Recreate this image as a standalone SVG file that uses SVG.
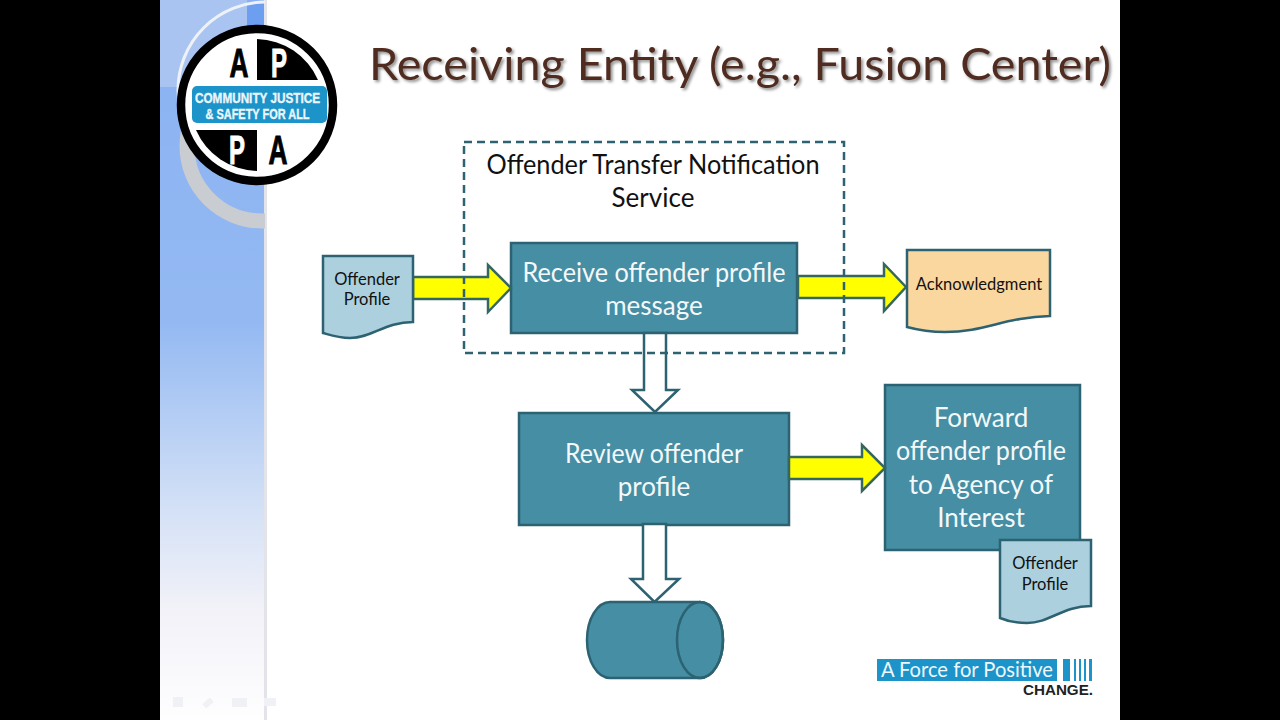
<svg xmlns="http://www.w3.org/2000/svg" width="1280" height="720" viewBox="0 0 1280 720">
<style>
text{font-family:"Lato","Open Sans","Liberation Sans",sans-serif;text-anchor:middle}
.box{fill:#458ea3;stroke:#2c6272;stroke-width:2.5}
.w{fill:#f4f8fa;font-size:26px}
.k{fill:#111;font-size:16.5px}
.doc{stroke:#2c6272;stroke-width:2.5}
.ya{fill:#ffff00;stroke:#36675f;stroke-width:2.5;stroke-linejoin:miter}
.wa{fill:#fff;stroke:#2c6272;stroke-width:2.5;stroke-linejoin:miter}
.lg{font-family:"Liberation Sans",sans-serif;font-weight:700;fill:#fff}
</style>
<defs>
<linearGradient id="side" x1="0" y1="0" x2="0" y2="1"><stop offset="0" stop-color="#8ab2f2"/><stop offset="0.45" stop-color="#94b9f2"/><stop offset="0.7" stop-color="#d2e0f6"/><stop offset="0.85" stop-color="#f3f2f8"/><stop offset="1" stop-color="#fefeff"/></linearGradient>
<clipPath id="sc"><rect x="160" y="0" width="105" height="720"/></clipPath>
</defs>
<rect width="1280" height="720" fill="#000"/>
<rect x="160" width="960" height="720" fill="#fff"/>
<g id="sidebar">
<rect x="160" y="0" width="105" height="720" fill="url(#side)"/>
<rect x="160" y="0" width="87" height="87" fill="#a9c4f1"/>
<rect x="247" y="3" width="18" height="84" fill="#6d9ff0"/>
<rect x="264" y="0" width="3" height="720" fill="#e2e4ea"/>
<g clip-path="url(#sc)" fill="none">
<circle cx="262" cy="146" r="75" stroke="#c9ccd0" stroke-width="15"/>
<circle cx="266" cy="90" r="88" stroke="#eef2f8" stroke-width="3"/>
</g>
<g fill="#f0f1f5"><rect x="173" y="697" width="10" height="10"/><rect x="203" y="700" width="10" height="6" transform="rotate(-40 208 703)"/><rect x="232" y="698" width="15" height="9"/><rect x="264" y="698" width="12" height="8"/></g>
</g>
<text x="740" y="80" style="font-size:45px;fill:#4f2b20;filter:drop-shadow(2px 2px 1.5px rgba(0,0,0,.45))" textLength="742" lengthAdjust="spacingAndGlyphs">Receiving Entity (e.g., Fusion Center)</text>
<g id="logo">
<circle cx="257" cy="105" r="76" fill="#fff" stroke="#000" stroke-width="8.5"/>
<path d="M257 39A68 68 0 0 1 318 80H257Z" fill="#000"/>
<path d="M257 171A68 68 0 0 1 196 130H257Z" fill="#000"/>
<rect x="192" y="86" width="135" height="37" rx="5" fill="#1c93c9"/>
<text class="lg" x="239" y="77" style="font-size:41px;fill:#000;stroke:#000;stroke-width:1" textLength="19" lengthAdjust="spacingAndGlyphs">A</text>
<text class="lg" x="279" y="77" style="font-size:41px;stroke:#fff;stroke-width:1" textLength="16" lengthAdjust="spacingAndGlyphs">P</text>
<text class="lg" x="237" y="164" style="font-size:41px;stroke:#fff;stroke-width:1" textLength="16" lengthAdjust="spacingAndGlyphs">P</text>
<text class="lg" x="278" y="164" style="font-size:41px;fill:#000;stroke:#000;stroke-width:1" textLength="19" lengthAdjust="spacingAndGlyphs">A</text>
<text class="lg" x="257.500" y="103" style="font-size:15px;fill:#eaf6fb;stroke:#eaf6fb;stroke-width:.4" textLength="125" lengthAdjust="spacingAndGlyphs">COMMUNITY JUSTICE</text>
<text class="lg" x="257.500" y="119" style="font-size:15px;fill:#eaf6fb;stroke:#eaf6fb;stroke-width:.4" textLength="104" lengthAdjust="spacingAndGlyphs">&amp; SAFETY FOR ALL</text>
</g>
<g id="review"><rect class="box" x="519" y="413" width="270" height="112"/>
<text class="w" x="654" y="463" textLength="178" lengthAdjust="spacingAndGlyphs">Review offender</text><text class="w" x="654" y="496">profile</text></g>
<g id="forward"><rect class="box" x="885" y="385" width="195" height="165"/>
<text class="w" x="981" y="427">Forward</text><text class="w" x="981" y="460" textLength="170" lengthAdjust="spacingAndGlyphs">offender profile</text><text class="w" x="981" y="494">to Agency of</text><text class="w" x="981" y="527">Interest</text></g>
<g id="receive"><rect class="box" x="511" y="243" width="286" height="90"/>
<text class="w" x="654" y="282" textLength="263" lengthAdjust="spacingAndGlyphs">Receive offender profile</text><text class="w" x="654" y="315">message</text></g>
<g id="connectors">
<path class="ya" d="M413 277H488V265L511 288L488 312V299H413Z"/>
<path class="ya" d="M798 276H884V264L906 287L884 311V298H798Z"/>
<path class="ya" d="M789 457H862V445L885 468L862 491V479H789Z"/>
<path class="wa" d="M644 333V390H632L655 412L678 390H666V333Z"/>
<path class="wa" d="M643 524V579H631L654.500 602L679 579H666V524Z"/>
</g>
<g id="service"><rect x="464" y="142" width="380" height="211" fill="none" stroke="#2c6272" stroke-width="2.500" stroke-dasharray="8 5"/>
<text x="653" y="174" style="font-size:26px;fill:#111" textLength="333" lengthAdjust="spacingAndGlyphs">Offender Transfer Notification</text><text x="653" y="207" style="font-size:26px;fill:#111">Service</text></g>
<g id="profile-in"><path class="doc" fill="#acd0de" d="M323 256H413V322C385 322 372 338 350 338C338 338 330 335 323 333Z"/>
<text class="k" x="367" y="285">Offender</text><text class="k" x="367" y="305">Profile</text></g>
<g id="ack"><path class="doc" fill="#fad79f" d="M907 250H1050V316C1005 317 985 332 945 332C930 332 918 330 907 327Z"/>
<text class="k" x="979" y="290">Acknowledgment</text></g>
<g id="profile-out"><path class="doc" fill="#acd0de" d="M1000 540H1091V606C1062 606 1050 623 1027 623C1015 623 1007 621 1000 618Z"/>
<text class="k" x="1045" y="569">Offender</text><text class="k" x="1045" y="590">Profile</text></g>
<g id="store"><path class="box" d="M610 602H700A23 38 0 0 1 700 678H610A23 38 0 0 1 610 602Z"/><ellipse cx="700" cy="640" rx="23" ry="38" fill="none" stroke="#2c6272" stroke-width="2.500"/></g>
<g id="brand"><rect x="877" y="659" width="180" height="22" fill="#1c93c9"/>
<text x="967" y="677" style="font-size:21px;fill:#eef8fc" textLength="172" lengthAdjust="spacingAndGlyphs">A Force for Positive</text>
<path d="M1063 659h7v22h-7zM1074 659h2v22h-2zM1079 659h2v22h-2zM1084 659h2v22h-2zM1089 659h3v22h-3z" fill="#1c93c9"/>
<text x="1058" y="695" style="font-family:'Liberation Sans',sans-serif;font-weight:700;font-size:14px;fill:#222" textLength="70" lengthAdjust="spacingAndGlyphs">CHANGE.</text></g>
</svg>
